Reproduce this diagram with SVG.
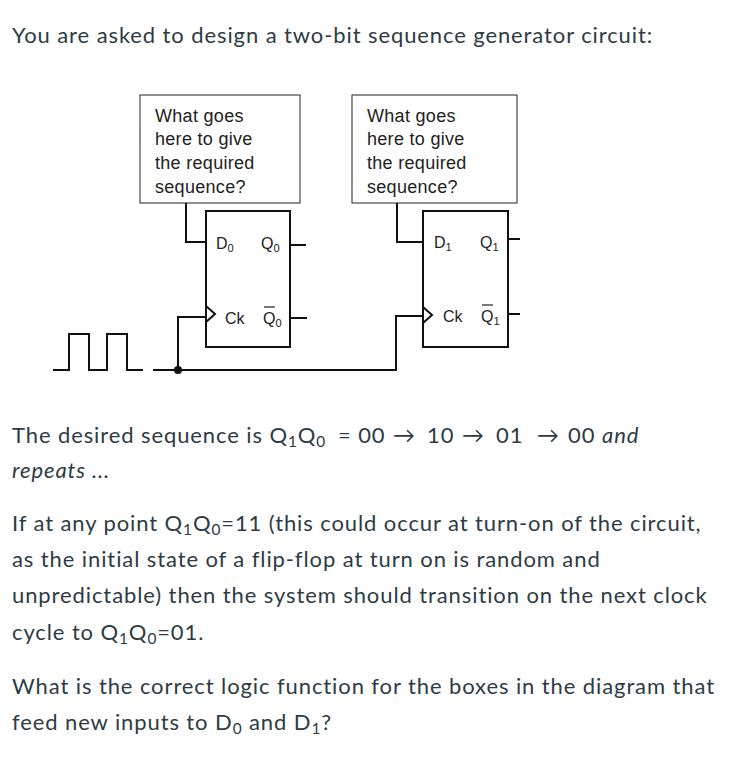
<svg xmlns="http://www.w3.org/2000/svg" width="736" height="771" viewBox="0 0 736 771">
<style>
.t{font-family:Lato,"Liberation Sans",sans-serif;font-size:22px;letter-spacing:0.9px;fill:#2d3b45}
.b{font-family:"Liberation Sans",Arial,sans-serif;font-size:18px;letter-spacing:0.3px;fill:#222}
.f{font-family:"Liberation Sans",Arial,sans-serif;font-size:16px;fill:#222}
.w{fill:none;stroke:#111;stroke-width:2}
.bx{fill:#fff;stroke:#222;stroke-width:1}
.s{font-size:70%}
</style>
<rect width="736" height="771" fill="#fff"/>
<text class="t" x="12" y="43">You are asked to design a two-bit sequence generator circuit:</text>
<g id="box0"><rect class="bx" x="140" y="95" width="160" height="108"/>
<text class="b" x="155" y="122">What goes</text><text class="b" x="155" y="145">here to give</text><text class="b" x="155" y="169">the required</text><text class="b" x="155" y="193">sequence?</text></g>
<g id="box1"><rect class="bx" x="352" y="95" width="165" height="108"/>
<text class="b" x="367" y="122">What goes</text><text class="b" x="367" y="145">here to give</text><text class="b" x="367" y="169">the required</text><text class="b" x="367" y="193">sequence?</text></g>
<g id="ff0"><rect class="w" x="206" y="211" width="84" height="136"/>
<path class="w" d="M206 306 L215 314 L206 322"/>
<text class="f" x="216" y="249">D<tspan class="s" dy="3">0</tspan></text>
<text class="f" x="261" y="249">Q<tspan class="s" dy="3">0</tspan></text>
<text class="f" x="225" y="324">Ck</text>
<text class="f" x="263" y="324">Q<tspan class="s" dy="3">0</tspan></text>
<line x1="264" y1="307" x2="275" y2="307" stroke="#222" stroke-width="1.2"/></g>
<g id="ff1"><rect class="w" x="423" y="211" width="85" height="136"/>
<path class="w" d="M423 307 L432 315 L423 323"/>
<text class="f" x="434" y="248">D<tspan class="s" dy="3">1</tspan></text>
<text class="f" x="480" y="248">Q<tspan class="s" dy="3">1</tspan></text>
<text class="f" x="443" y="322">Ck</text>
<text class="f" x="481" y="322">Q<tspan class="s" dy="3">1</tspan></text>
<line x1="482" y1="305" x2="493" y2="305" stroke="#222" stroke-width="1.2"/></g>
<g id="connectors">
<path class="w" d="M186 203 V242 H206"/>
<path class="w" d="M397 203 V242 H423"/>
<path class="w" d="M290 245 H306 M290 318 H307 M508 239 H520 M508 314 H520"/>
<path class="w" d="M53 370 H69 V334 H89 V370 H107 V334 H127 V370 H143"/>
<path class="w" d="M153 370 H396 V316 H423"/>
<path class="w" d="M178 370 V317 H206"/>
<circle cx="178" cy="370" r="4" fill="#111"/>
</g>
<text class="t" x="12" y="443">The desired sequence is Q<tspan class="s" dy="4">1</tspan><tspan dy="-4">Q</tspan><tspan class="s" dy="4">0</tspan><tspan x="338" dy="-4">= 00</tspan><tspan x="393">→</tspan><tspan x="427">10</tspan><tspan x="462">→</tspan><tspan x="496">01</tspan><tspan x="537">→</tspan><tspan x="568">00</tspan><tspan x="602" font-style="italic">and</tspan></text>
<text class="t" x="12" y="478" font-style="italic">repeats  ...</text>
<text class="t" x="12" y="531">If at any point Q<tspan class="s" dy="4">1</tspan><tspan dy="-4">Q</tspan><tspan class="s" dy="4">0</tspan><tspan dy="-4">=11 (this could occur at turn-on of the circuit,</tspan></text>
<text class="t" x="12" y="567">as the initial state of a flip-flop at turn on is random and</text>
<text class="t" x="12" y="603">unpredictable) then the system should transition on the next clock</text>
<text class="t" x="12" y="640">cycle to Q<tspan class="s" dy="4">1</tspan><tspan dy="-4">Q</tspan><tspan class="s" dy="4">0</tspan><tspan dy="-4">=01.</tspan></text>
<text class="t" x="12" y="694">What is the correct logic function for the boxes in the diagram that</text>
<text class="t" x="12" y="730">feed new inputs to D<tspan class="s" dy="4">0</tspan><tspan dy="-4"> and D</tspan><tspan class="s" dy="4">1</tspan><tspan dy="-4">?</tspan></text>
</svg>
